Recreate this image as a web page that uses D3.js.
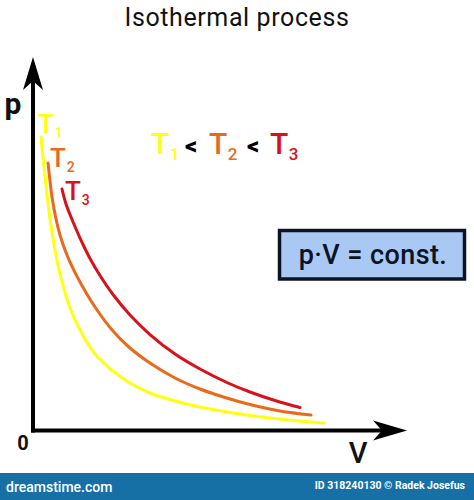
<!DOCTYPE html>
<html>
<head>
<meta charset="utf-8">
<script src="https://cdn.jsdelivr.net/npm/d3@7"></script>
<style>
  html, body { margin: 0; padding: 0; background: #fff; }
  svg { display: block; }
  text { font-family: Roboto, "DejaVu Sans", sans-serif; }
</style>
</head>
<body>
<div id="chart"></div>
<script>
// ---------- data ----------
const titleText = "Isothermal process";
const axisLabelP = "p";
const axisLabelV = "V";
const originLabel = "0";
const formulaText = "p\u00B7V = const.";
const curveNames = ["T", "T", "T"];
const curveSubs = ["1", "2", "3"];
const curveColors = ["#ffff12", "#ea6a1c", "#d8121a"];
const legendSeparator = "<";
const footerLeft = "dreamstime.com";
const footerRight = "ID 318240130 \u00A9 Radek Josefus";

// isotherm T1 (V, p), domain 0..100
const t1V = [2.14, 2.67, 3.21, 4.55, 5.88, 7.22, 9.89, 12.57, 16.58, 21.39, 25.94, 31.28, 37.97, 44.65, 58.02, 71.39, 77.81];
const t1P = [78.58, 73.23, 68.14, 56.63, 48.33, 41.90, 32.80, 26.91, 20.48, 15.93, 12.72, 10.04, 7.90, 6.29, 4.02, 2.54, 2.01];
// isotherm T2
const t2V = [4.01, 4.55, 5.08, 6.15, 7.22, 8.56, 9.89, 12.57, 16.58, 21.39, 25.94, 31.28, 37.97, 44.65, 51.34, 58.02, 66.04, 74.33];
const t2P = [71.62, 66.80, 62.52, 56.63, 52.34, 48.33, 45.11, 39.76, 33.07, 26.64, 22.09, 18.07, 14.06, 11.11, 8.84, 6.96, 5.22, 4.15];
// isotherm T3
const t3V = [7.75, 8.82, 9.89, 11.50, 13.37, 15.24, 17.91, 21.39, 25.94, 31.28, 37.97, 44.65, 52.14, 58.02, 64.71, 71.39];
const t3P = [64.66, 60.64, 57.83, 53.95, 49.80, 46.05, 41.50, 36.41, 30.92, 25.70, 20.48, 16.47, 12.72, 10.31, 8.03, 6.16];

const seriesV = [t1V, t2V, t3V];
const seriesP = [t1P, t2P, t3P];

// ---------- drawing ----------
const W = 474, H = 500;
const svg = d3.select("#chart").append("svg").attr("width", W).attr("height", H);

const x = d3.scaleLinear().domain([0, 100]).range([33, 407]);
const y = d3.scaleLinear().domain([0, 100]).range([430.5, 57]);

// title
svg.append("text").attr("x", 237).attr("y", 26).attr("text-anchor", "middle")
  .attr("font-size", 25).attr("font-weight", 400).attr("letter-spacing", 0.6)
  .attr("fill", "#111").text(titleText);

// axes
const axisColor = "#000";
svg.append("line").attr("x1", x(0)).attr("x2", x(0)).attr("y1", y(0) + 2).attr("y2", y(96))
  .attr("stroke", axisColor).attr("stroke-width", 4);
svg.append("line").attr("x1", x(0) - 2).attr("x2", x(96)).attr("y1", y(0)).attr("y2", y(0))
  .attr("stroke", axisColor).attr("stroke-width", 4);
// arrowheads
const ax = x(0), ayTip = y(100);
svg.append("path").attr("fill", axisColor)
  .attr("d", `M${ax},${ayTip} L${ax + 10},${ayTip + 33} L${ax},${ayTip + 24} L${ax - 10},${ayTip + 33} Z`);
const axTip = x(100), ay = y(0);
svg.append("path").attr("fill", axisColor)
  .attr("d", `M${axTip},${ay} L${axTip - 34},${ay + 10} L${axTip - 25},${ay} L${axTip - 34},${ay - 10} Z`);

// axis labels
svg.append("text").attr("x", 13).attr("y", 114).attr("text-anchor", "middle")
  .attr("font-size", 30).attr("font-weight", 700).attr("fill", "#111").text(axisLabelP);
svg.append("text").attr("x", 358).attr("y", 463).attr("text-anchor", "middle")
  .attr("font-size", 29).attr("font-weight", 500).attr("fill", "#111").text(axisLabelV);
svg.append("text").attr("x", 23).attr("y", 450).attr("text-anchor", "middle")
  .attr("font-size", 20).attr("font-weight", 700).attr("fill", "#111").text(originLabel);

// isotherms
const line = d3.line().x(d => x(d[0])).y(d => y(d[1])).curve(d3.curveCatmullRom.alpha(0.5));
seriesV.forEach((vs, i) => {
  const pts = vs.map((v, j) => [v, seriesP[i][j]]);
  svg.append("path").datum(pts).attr("d", line).attr("fill", "none")
    .attr("stroke", curveColors[i]).attr("stroke-width", 3).attr("stroke-linecap", "round");
});

// curve labels (T with subscript in one text element)
const labelPos = [[38, 133], [50, 167], [65, 200]];
curveNames.forEach((n, i) => {
  const [lx, ly] = labelPos[i];
  const t = svg.append("text").attr("x", lx).attr("y", ly).attr("font-weight", 500)
    .attr("fill", curveColors[i]);
  t.append("tspan").attr("font-size", 26).text(n);
  t.append("tspan").attr("font-size", 14).attr("dy", 5).attr("dx", 1).text(curveSubs[i]);
});

// legend T1 < T2 < T3
const legendX = [151, 209, 270];
const sepX = [191, 253];
curveNames.forEach((n, i) => {
  const t = svg.append("text").attr("x", legendX[i]).attr("y", 154).attr("font-weight", 500)
    .attr("fill", curveColors[i]);
  t.append("tspan").attr("font-size", 30).text(n);
  t.append("tspan").attr("font-size", 17).attr("dy", 6).attr("dx", 0.5).text(curveSubs[i]);
});
sepX.forEach(sx => {
  svg.append("text").attr("x", sx).attr("y", 154).attr("text-anchor", "middle")
    .attr("font-size", 24).attr("font-weight", 900).attr("fill", "#000").text(legendSeparator);
});

// formula box
svg.append("rect").attr("x", 279.5).attr("y", 230.5).attr("width", 185).attr("height", 48.5)
  .attr("fill", "#a9c8f3").attr("stroke", "#0c1424").attr("stroke-width", 3.5);
svg.append("text").attr("x", 373).attr("y", 264).attr("text-anchor", "middle")
  .attr("font-size", 27).attr("font-weight", 500).attr("letter-spacing", 0.4)
  .attr("fill", "#0c1424").text(formulaText);

// footer
svg.append("rect").attr("x", 0).attr("y", 473).attr("width", W).attr("height", H - 473).attr("fill", "#1670a6");
svg.append("text").attr("x", 6).attr("y", 492).attr("font-size", 14).attr("font-weight", 500)
  .attr("fill", "#fff").text(footerLeft);
svg.append("text").attr("x", 465).attr("y", 489).attr("text-anchor", "end").attr("font-size", 10.5)
  .attr("font-weight", 700).attr("fill", "#fff").text(footerRight);
</script>
</body>
</html>
